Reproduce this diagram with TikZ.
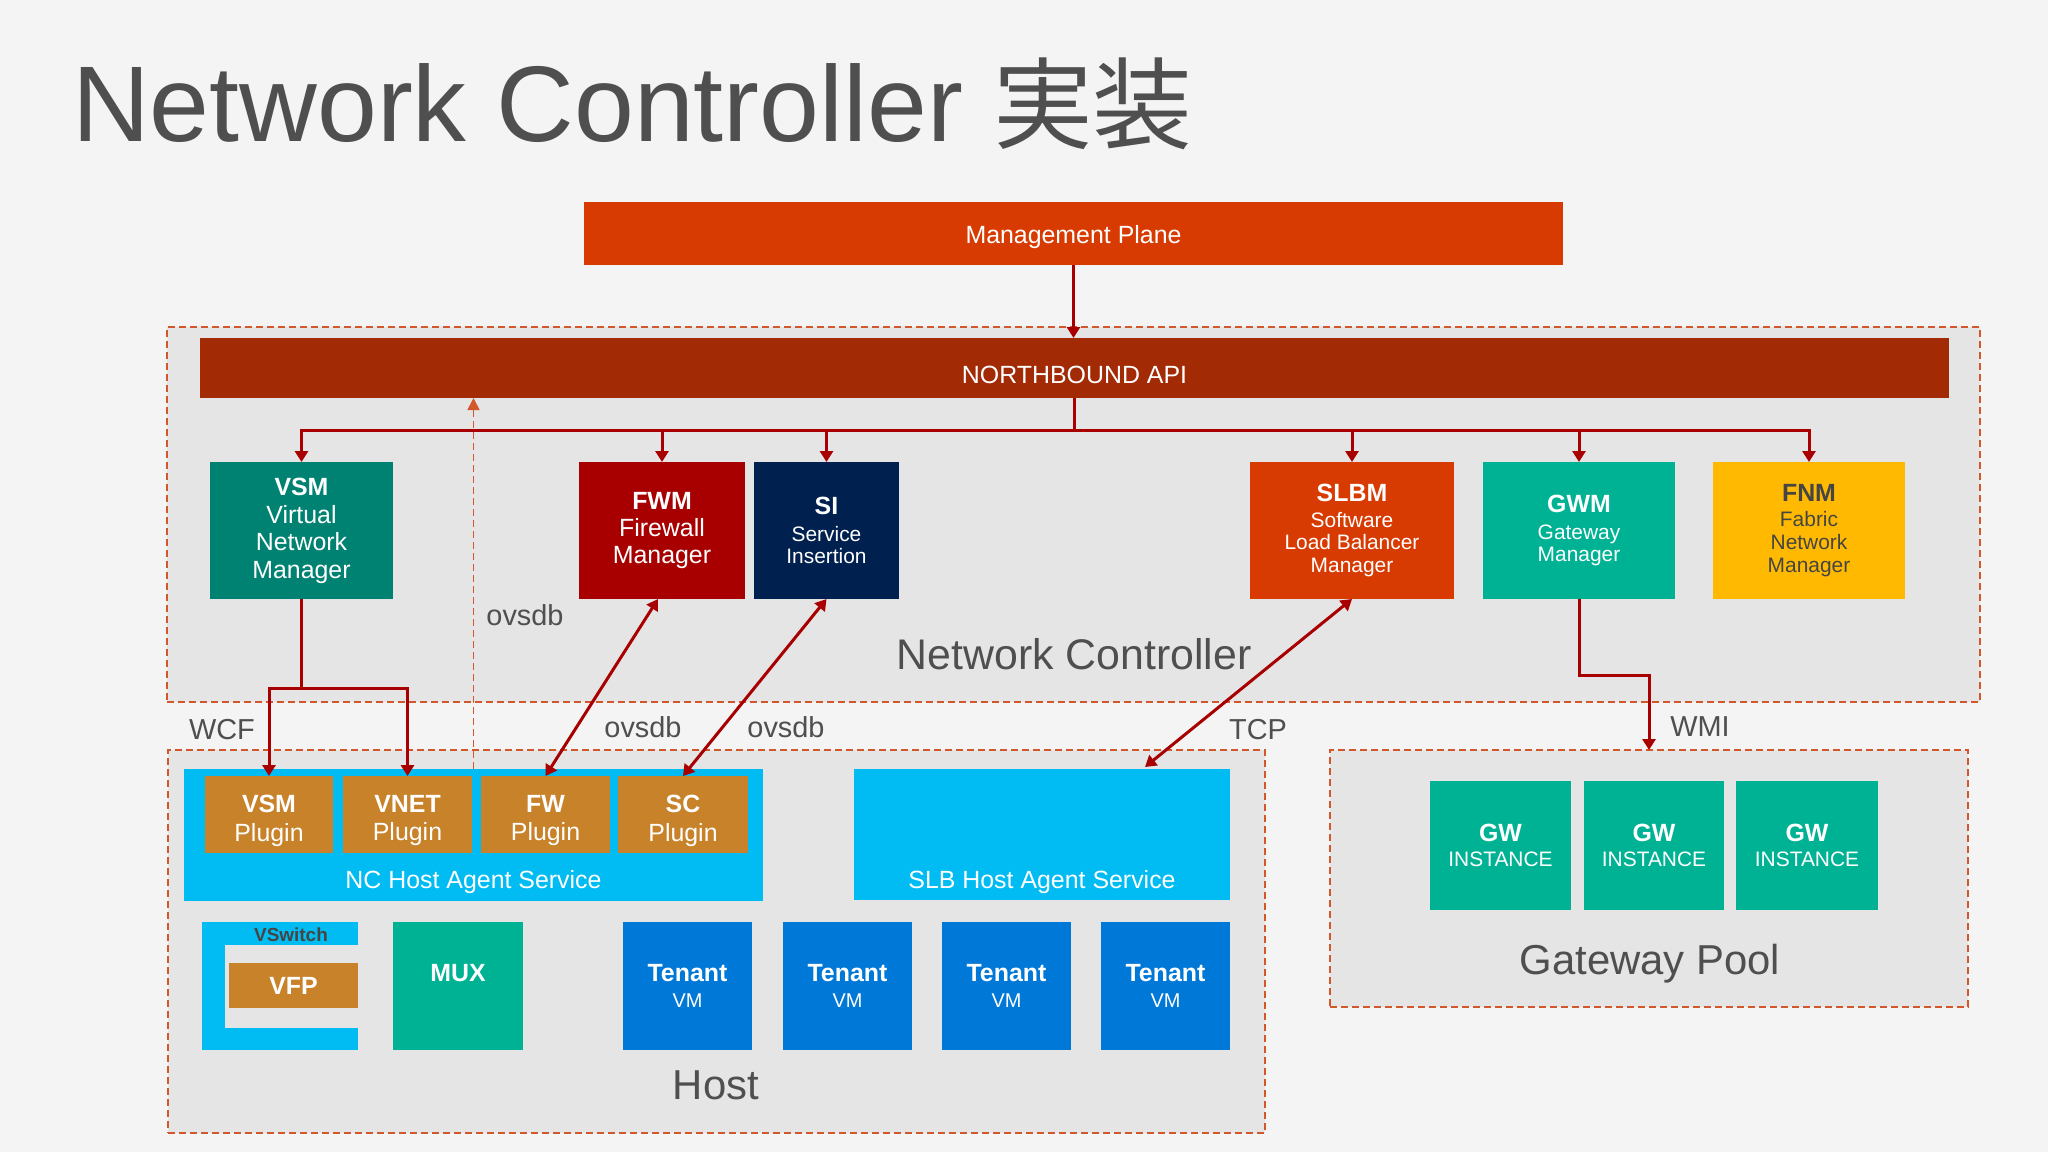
\documentclass[tikz,border=0pt]{standalone}
\usepackage{fontspec}
\setmainfont{Liberation Sans}
\newfontfamily\cjkfont{Noto Sans CJK JP}
\usetikzlibrary{arrows.meta,calc}
\definecolor{bgc}{HTML}{F4F4F4}
\definecolor{panel}{HTML}{E5E5E6}
\definecolor{dashc}{HTML}{D2572A}
\definecolor{arrc}{HTML}{A80000}
\definecolor{mporange}{HTML}{D83B01}
\definecolor{nbred}{HTML}{A22A05}
\definecolor{tealdk}{HTML}{008272}
\definecolor{fwred}{HTML}{A80000}
\definecolor{navy}{HTML}{002050}
\definecolor{tealc}{HTML}{00B294}
\definecolor{amber}{HTML}{FFB900}
\definecolor{cyanc}{HTML}{00BCF2}
\definecolor{ochre}{HTML}{C8822A}
\definecolor{vmblue}{HTML}{0078D7}
\definecolor{txtgray}{HTML}{4F4F4F}
\definecolor{dkgray}{HTML}{454545}
\newcommand{\myfs}[2]{\fontsize{#1}{#2}\selectfont}
\begin{document}
\begin{tikzpicture}[x=1bp,y=-1bp,
  blk/.style={inner sep=0pt, outer sep=0pt, text=white, align=center},
  zone/.style={draw=dashc, fill=panel, line width=1.8bp, dash pattern=on 7bp off 4bp, inner sep=0pt, outer sep=0pt},
  tipx/.tip={Triangle[length=11bp,width=13bp]},
  ln/.style={draw=arrc, line width=3bp},
  arr/.style={draw=arrc, line width=3bp, -tipx},
  darr/.style={draw=arrc, line width=3bp, tipx-tipx},
  lbl/.style={text=txtgray, font=\myfs{29}{33}, inner sep=0pt},
  big/.style={text=txtgray, font=\myfs{42}{46}, inner sep=0pt},
  plug/.style={blk, fill=ochre, minimum width=#1, minimum height=77bp},
  plugtxt/.style={blk, font=\myfs{25}{29}, yshift=-6bp},
]
\fill[bgc] (0,0) rectangle (2048,1152);
\useasboundingbox (0,0) rectangle (2048,1152);

% title
\node[anchor=base west, inner sep=0pt, text=txtgray, font=\myfs{108}{110}] (title) at (72,141)
  {Network Controller {\cjkfont\myfs{100}{104}実装}};

% zones
\node[zone, minimum width=1813bp, minimum height=375bp] (nc) at (1073.5,514.5) {};
\node[zone, minimum width=1097bp, minimum height=383bp] (host) at (716.5,941.5) {};
\node[zone, minimum width=638bp, minimum height=257bp] (pool) at (1649,878.5) {};

% management plane and northbound
\node[blk, fill=mporange, minimum width=979bp, minimum height=63bp,
  label={[name=mpt, blk, font=\myfs{25}{30}, yshift=-4bp]center:Management Plane}] (mp) at (1073.5,233.5) {};
\node[blk, fill=nbred, minimum width=1749bp, minimum height=60bp,
  label={[name=nbt, blk, font=\myfs{25}{30}, yshift=-7bp]center:NORTHBOUND API}] (nb) at (1074.5,368) {};

% managers
\node[blk, fill=tealdk, minimum width=183bp, minimum height=137bp, font=\myfs{25}{27.5}] (vsm) at (301.5,530.5)
  {\textbf{VSM}\\[1bp]Virtual\\Network\\Manager};
\node[blk, fill=fwred, minimum width=166bp, minimum height=137bp, font=\myfs{25}{27.5}] (fwm) at (662,530.5)
  {\textbf{FWM}\\Firewall\\Manager};
\node[blk, fill=navy, minimum width=145bp, minimum height=137bp, font=\myfs{21}{22.5}] (si) at (826.5,530.5)
  {{\myfs{25}{27}\bfseries SI}\\[4.5bp]Service\\Insertion};
\node[blk, fill=mporange, minimum width=204bp, minimum height=137bp, font=\myfs{21}{23}] (slbm) at (1352,530.5)
  {{\myfs{25}{27}\bfseries SLBM}\\[3bp]Software\\Load Balancer\\Manager};
\node[blk, fill=tealc, minimum width=192bp, minimum height=137bp, font=\myfs{21}{22.5}] (gwm) at (1579,530.5)
  {{\myfs{25}{27}\bfseries GWM}\\[4.5bp]Gateway\\Manager};
\node[blk, fill=amber, text=dkgray, minimum width=192bp, minimum height=137bp, font=\myfs{21}{23}] (fnm) at (1809,530.5)
  {{\myfs{25}{27}\bfseries FNM}\\[3bp]Fabric\\Network\\Manager};

\node[big, font=\myfs{43}{46}] (nclbl) at (1074,654) {Network Controller};

% host agents
\node[blk, fill=cyanc, minimum width=579bp, minimum height=132bp] (ncha) at (473.5,835) {};
\node[blk, font=\myfs{25}{30}] (nchat) at (473.5,882) {NC Host Agent Service};
\node[plug=128bp, label={[name=vsmpt, plugtxt]center:{\textbf{VSM}\\Plugin}}] (vsmp) at (269,814.5) {};
\node[plug=129bp, label={[name=vnetpt, plugtxt]center:{\textbf{VNET}\\Plugin}}] (vnetp) at (407.5,814.5) {};
\node[plug=129bp, label={[name=fwpt, plugtxt]center:{\textbf{FW}\\Plugin}}] (fwp) at (545.5,814.5) {};
\node[plug=130bp, label={[name=scpt, plugtxt]center:{\textbf{SC}\\Plugin}}] (scp) at (683,814.5) {};

\node[blk, fill=cyanc, minimum width=376bp, minimum height=131bp] (slbha) at (1042,834.5) {};
\node[blk, font=\myfs{25}{30}] (slbhat) at (1042,882) {SLB Host Agent Service};

% bottom row of host
\node[blk, fill=cyanc, minimum width=156bp, minimum height=128bp] (vsw) at (280,986) {};
\fill[panel] (225,945) rectangle (358,1028);
\node[blk, text=dkgray, font=\myfs{19}{21}\bfseries] (vswt) at (291,935) {VSwitch};
\node[blk, fill=ochre, minimum width=129bp, minimum height=45bp, font=\myfs{25}{27}\bfseries] (vfp) at (293.5,985.5) {VFP};
\node[blk, fill=tealc, minimum width=130bp, minimum height=128bp, font=\myfs{20}{26}] (mux) at (458,986) {{\myfs{25}{27}\bfseries MUX}\\\phantom{VM}};
\foreach \nm/\cx in {vm1/687.5, vm2/847.5, vm3/1006.5, vm4/1165.5}{
  \node[blk, fill=vmblue, minimum width=129bp, minimum height=128bp, font=\myfs{20}{26}] (\nm) at (\cx,986) {{\myfs{25}{27}\bfseries Tenant}\\VM};
}
\node[big] (hostlbl) at (716,1085) {Host};

% gateway pool
\foreach \nm/\cx/\w in {gw1/1500.5/141, gw2/1654/140, gw3/1807/142}{
  \node[blk, fill=tealc, minimum width=\w bp, minimum height=129bp, font=\myfs{21}{25}] (\nm) at (\cx,845.5) {{\myfs{25}{27}\bfseries GW}\\INSTANCE};
}
\node[big] (poollbl) at (1650,964) {Gateway Pool};

% connectors
\draw[arr] (mp.south) -- (mp.south |- nb.north);
\coordinate (br) at ($(nb.south)+(0,32)$);
\draw[ln] (nb.south) -- (br);
\foreach \t in {vsm, fwm, si, slbm, gwm, fnm}{
  \draw[arr] (br) -| (\t.north);
}
\coordinate (wcf) at ($(vsm.south)+(0,89)$);
\draw[ln] (vsm.south) -- (wcf);
\draw[arr] (wcf) -| (vsmp.north);
\draw[arr] (wcf) -| (vnetp.north);
\draw[darr] ([xshift=-4bp]fwm.south) -- (fwp.north);
\draw[darr] (si.south) -- (scp.north);
\draw[darr] (slbm.south) -- ([xshift=103bp,yshift=2bp]slbha.north);
\draw[arr] (gwm.south) -- ++(0,76) -| (pool.north);
\draw[draw=dashc, line width=1.8bp, dash pattern=on 7bp off 4bp, -{Triangle[length=12bp,width=12bp]}] (ncha.north) -- (ncha.north |- nb.south);

% labels
\node[lbl] (l1) at (525,615) {ovsdb};
\node[lbl] (l2) at (222,730) {WCF};
\node[lbl] (l3) at (643,727) {ovsdb};
\node[lbl] (l4) at (786,727) {ovsdb};
\node[lbl] (l5) at (1258,730) {TCP};
\node[lbl] (l6) at (1700,727) {WMI};
\end{tikzpicture}
\end{document}
